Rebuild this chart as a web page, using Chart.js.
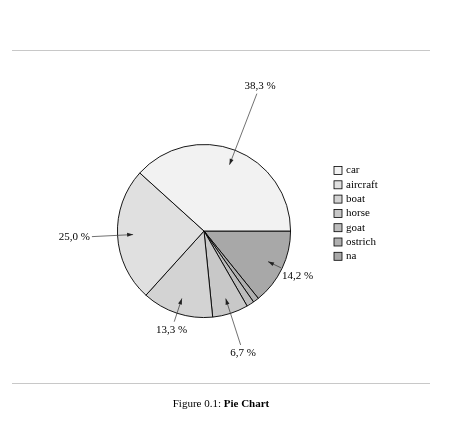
<!DOCTYPE html>
<html><head><meta charset="utf-8">
<script src="https://cdn.jsdelivr.net/npm/chart.js@4"></script>
<style>html,body{margin:0;padding:0;background:#fff}#c{display:block}</style>
</head><body>
<div style="width:474px;height:432px"><canvas id="c" width="474" height="432"></canvas></div>
<script>
const categories = ["car","aircraft","boat","horse","goat","ostrich","na"];
const values = [38.3, 25.0, 13.3, 6.7, 1.4, 1.1, 14.2];
const labelTexts = ["38,3 %","25,0 %","13,3 %","6,7 %",null,null,"14,2 %"];
const colors = ["#f2f2f2","#e0e0e0","#d3d3d3","#c8c8c8","#bcbcbc","#b0b0b0","#a8a8a8"];
const labelDist = [1.80, 1.50, 1.20, 1.48, 0, 0, 1.20];
const FONT = '"Liberation Serif","DejaVu Serif",serif';

// Chart.js draws clockwise; the reference goes counter-clockwise from east, so reverse.
const rev = a => a.slice().reverse();

const deco = {
  id:'deco',
  afterDraw(chart){
    const ctx = chart.ctx;
    ctx.save();
    ctx.strokeStyle='#c8c8c8'; ctx.lineWidth=1;
    ctx.beginPath(); ctx.moveTo(12,50.5); ctx.lineTo(430,50.5);
    ctx.moveTo(12,383.5); ctx.lineTo(430,383.5); ctx.stroke();
    ctx.fillStyle='#000'; ctx.textBaseline='middle';
    ctx.font='11px '+FONT;
    const t1='Figure 0.1: ', t2='Pie Chart';
    ctx.font='11px '+FONT; const w1=ctx.measureText(t1).width;
    ctx.font='bold 11px '+FONT; const w2=ctx.measureText(t2).width;
    let x0=221-(w1+w2)/2;
    ctx.font='11px '+FONT; ctx.textAlign='left'; ctx.fillText(t1,x0,404);
    ctx.font='bold 11px '+FONT; ctx.fillText(t2,x0+w1,404);
    // legend
    ctx.font='11px '+FONT;
    categories.forEach((c,i)=>{
      const y=170.5+i*14.3;
      ctx.fillStyle=colors[i]; ctx.fillRect(334,y-4,8,8);
      ctx.strokeStyle='#000'; ctx.lineWidth=0.8; ctx.strokeRect(334,y-4,8,8);
      ctx.fillStyle='#000'; ctx.fillText(c,346,y);
    });
    // labels with arrows
    const meta=chart.getDatasetMeta(0);
    const n=categories.length;
    categories.forEach((c,i)=>{
      if(!labelTexts[i]) return;
      const arc=meta.data[n-1-i];
      const mid=(arc.startAngle+arc.endAngle)/2;
      const R=arc.outerRadius, cx=arc.x, cy=arc.y;
      const tx=cx+Math.cos(mid)*R*0.82, ty=cy+Math.sin(mid)*R*0.82;
      const lx=cx+Math.cos(mid)*R*labelDist[i], ly=cy+Math.sin(mid)*R*labelDist[i];
      ctx.font='11px '+FONT; ctx.textAlign='center';
      const w=ctx.measureText(labelTexts[i]).width;
      ctx.fillStyle='#000'; ctx.fillText(labelTexts[i],lx,ly);
      // line start at label box edge
      const dx=tx-lx, dy=ty-ly, L=Math.hypot(dx,dy);
      const s=Math.min((w/2+2)/Math.abs(dx||1e-6),8/Math.abs(dy||1e-6));
      const sx=lx+dx*s, sy=ly+dy*s;
      ctx.strokeStyle='#333'; ctx.lineWidth=0.7;
      ctx.beginPath(); ctx.moveTo(sx,sy); ctx.lineTo(tx,ty); ctx.stroke();
      const ux=dx/L, uy=dy/L;
      ctx.beginPath(); ctx.moveTo(tx,ty);
      ctx.lineTo(tx-ux*6-uy*2,ty-uy*6+ux*2); ctx.lineTo(tx-ux*6+uy*2,ty-uy*6-ux*2);
      ctx.closePath(); ctx.fillStyle='#222'; ctx.fill();
    });
    ctx.restore();
  }
};

new Chart(document.getElementById('c'),{
  type:'pie',
  data:{labels:rev(categories),datasets:[{data:rev(values),backgroundColor:rev(colors),borderColor:'#000',borderWidth:0.9}]},
  options:{
    responsive:false, devicePixelRatio:1, animation:false,
    rotation:90,
    layout:{padding:{left:117,right:183,top:144,bottom:114}},
    plugins:{legend:{display:false},tooltip:{enabled:false}}
  },
  plugins:[deco]
});
</script>
</body></html>
